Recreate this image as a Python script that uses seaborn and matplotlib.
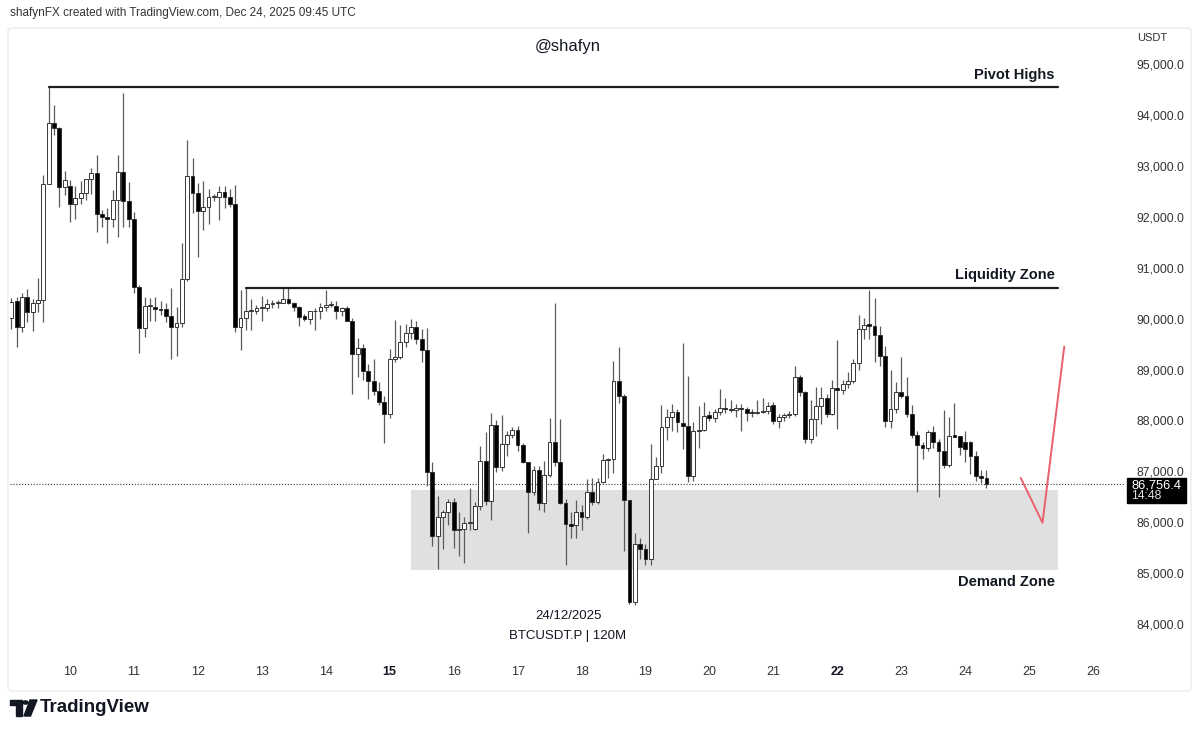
import numpy as np
import pandas as pd
import matplotlib
matplotlib.use("Agg")
import matplotlib.pyplot as plt
import matplotlib.patches as mpatches
import seaborn as sns

# 2h candles, BTCUSDT.P, Dec 9 02:00 -> Dec 24 08:00 (one row per day)
open_px = [
    90020, 90350, 89840, 90430, 90120, 90310, 90370, 92650, 93840, 93740, 92590,
    92610, 92260, 92370, 92470, 92750, 92850, 92060, 92000, 91960, 92330, 92880, 92300,
    91960, 90630, 89820, 90240, 90220, 90180, 90180, 90060, 89830, 89920, 90770, 92810,
    92470, 92120, 92200, 92380, 92380, 92480, 92380, 92260, 89840, 90020, 90140, 90140,
    90200, 90210, 90290, 90300, 90310, 90380, 90300, 90220, 90060, 90000, 90140, 90150,
    90220, 90270, 90240, 90140, 90200, 89960, 89300, 89430, 88980, 88770, 88570, 88370,
    88120, 89200, 89240, 89550, 89710, 89830, 89590, 89390, 86980, 85730, 86100, 86200,
    86400, 85850, 85860, 85980, 85870, 86320, 87200, 86410, 87920, 87080, 87530, 87710,
    87810, 87510, 87180, 86590, 87020, 86380, 86920, 87570, 87180, 86380, 85960, 85940,
    86200, 86100, 86600, 86400, 86790, 87220, 87240, 88770, 88470, 86430, 84430, 85570,
    85470, 85280, 86850, 87100, 87880, 88060, 88160, 87940, 87900, 86900, 87790, 87820,
    88100, 88040, 88160, 88240, 88230, 88200, 88240, 88230, 88150, 88140, 88170, 88180,
    88300, 87980, 88060, 88100, 88120, 88860, 88550, 87630, 88020, 88280, 88450, 88120,
    88630, 88600, 88710, 88780, 89120, 89790, 89900, 89860, 89670, 89260, 87980, 88220,
    88550, 88470, 88120, 87710, 87510, 87460, 87780, 87570, 87400, 87120, 87720, 87690,
    87570, 87570, 87300, 86900, 86860,
]
high_px = [
    90410, 90430, 90510, 90580, 90390, 90800, 92830, 94550, 94200, 93760, 92900,
    92730, 92600, 92700, 92750, 92950, 93220, 92140, 92180, 92530, 93220, 94430, 92680,
    92100, 90650, 90430, 90400, 90430, 90350, 90300, 90600, 90220, 91490, 93510, 93160,
    92670, 92700, 92550, 92450, 92600, 92600, 92550, 92630, 90570, 90610, 90380, 90260,
    90450, 90380, 90370, 90370, 90600, 90630, 90330, 90250, 90100, 90140, 90210, 90300,
    90560, 90340, 90340, 90220, 90250, 90020, 89620, 89500, 89100, 89200, 88750, 88470,
    89400, 89980, 89880, 89900, 90000, 89950, 89800, 89820, 87180, 86510, 86250, 86460,
    86480, 86200, 86100, 86670, 86400, 87490, 87770, 88140, 88000, 88100, 87790, 87880,
    87890, 87560, 87180, 87100, 87100, 87200, 88050, 90310, 88030, 86450, 86200, 86430,
    86330, 86840, 86860, 86870, 87350, 87270, 89160, 89450, 88520, 86430, 85780, 85700,
    85580, 87530, 87280, 88300, 88220, 88330, 88230, 89520, 88870, 87960, 88290, 88370,
    88180, 88230, 88620, 88440, 88400, 88320, 88320, 88260, 88230, 88400, 88440, 88370,
    88370, 88130, 88150, 88180, 89060, 88900, 88570, 88410, 88650, 88650, 88520, 88800,
    89570, 88800, 88960, 89200, 90080, 90010, 90560, 90410, 89850, 89470, 89000, 88760,
    89250, 88850, 88310, 87800, 87580, 87810, 87900, 87640, 88200, 88070, 88340, 87700,
    87800, 87590, 87390, 87020, 87020,
]
low_px = [
    89790, 89450, 89730, 89940, 89760, 90120, 89940, 92650, 93600, 92200, 92430,
    91900, 91950, 92250, 92320, 92440, 91710, 91800, 91490, 91800, 91600, 91800, 91790,
    90500, 89330, 89630, 89950, 89950, 90080, 89940, 89200, 89260, 89840, 90740, 92080,
    91200, 91740, 91850, 92300, 91940, 92180, 92200, 89730, 89390, 89780, 89780, 90100,
    89950, 90150, 90200, 90200, 90300, 90280, 90150, 89850, 89950, 89900, 89780, 90000,
    90150, 90230, 90000, 90050, 89950, 88510, 88860, 88800, 88420, 88490, 88300, 87550,
    88050, 89150, 89200, 89450, 89600, 89500, 89150, 86710, 85530, 85080, 85470, 85950,
    85500, 85340, 85200, 85850, 85840, 86250, 86330, 86040, 86990, 87000, 87300, 87650,
    87400, 87160, 85790, 86540, 86240, 86200, 86880, 87100, 86350, 85160, 85700, 85700,
    85840, 86060, 86330, 86360, 86770, 86870, 86970, 88350, 85430, 84400, 84380, 85270,
    85160, 85160, 86850, 86970, 87620, 87800, 87780, 87430, 86800, 86810, 87450, 87800,
    87980, 87960, 88110, 88140, 88160, 88060, 87800, 87980, 88070, 88120, 88140, 88120,
    87930, 87850, 87990, 88050, 88080, 88470, 87560, 87560, 87690, 87930, 88060, 88100,
    87830, 88520, 88640, 88740, 89000, 89590, 89590, 89140, 89070, 87880, 87860, 88140,
    88450, 88070, 87660, 86600, 87250, 87390, 87460, 86500, 87070, 87090, 87680, 87330,
    87190, 86950, 86810, 86770, 86680,
]
close_px = [
    90330, 89840, 90430, 90120, 90310, 90370, 92650, 93840, 93740, 92590, 92730,
    92260, 92370, 92470, 92750, 92860, 92060, 92000, 91960, 92330, 92880, 92300, 91960,
    90630, 89820, 90240, 90260, 90180, 90160, 90060, 89830, 89920, 90770, 92810, 92470,
    92120, 92200, 92380, 92390, 92480, 92380, 92260, 89840, 90020, 90140, 90160, 90200,
    90210, 90290, 90300, 90310, 90380, 90300, 90220, 90040, 90000, 90140, 90150, 90220,
    90270, 90280, 90140, 90200, 89960, 89300, 89430, 88980, 88770, 88570, 88370, 88120,
    89200, 89240, 89550, 89710, 89830, 89590, 89390, 86980, 85730, 86100, 86200, 86400,
    85850, 85860, 85980, 85990, 86320, 87200, 86410, 87920, 87080, 87530, 87710, 87810,
    87510, 87180, 86590, 87020, 86380, 86920, 87570, 87180, 86380, 85960, 85920, 86200,
    86100, 86600, 86400, 86790, 87220, 87230, 88770, 88470, 86430, 84430, 85570, 85470,
    85280, 86850, 87100, 87880, 88060, 88160, 87960, 87900, 86900, 87790, 87820, 88080,
    88040, 88160, 88240, 88230, 88200, 88240, 88230, 88150, 88140, 88170, 88180, 88290,
    87980, 88060, 88100, 88120, 88860, 88550, 87630, 88020, 88280, 88450, 88120, 88630,
    88600, 88710, 88780, 89120, 89790, 89880, 89860, 89670, 89260, 87980, 88220, 88550,
    88470, 88120, 87710, 87510, 87460, 87780, 87570, 87400, 87120, 87690, 87680, 87470,
    87430, 87300, 86900, 86860, 86756.4,
]

last_price = 86756.4
day_ticks = list(range(10, 27))
price_ticks = list(range(84000, 96000, 1000))
liquidity_start = 44          # candle index where the liquidity line starts
zone_start, zone_end = 15.33, 25.45
demand_lo, demand_hi = 85060, 86630
sketch_x = [24.87, 25.21, 25.55]
sketch_y = [86870, 85990, 89450]

times = pd.date_range("2025-12-09 02:00", periods=len(open_px), freq="2h")
df = pd.DataFrame({"open": open_px, "high": high_px, "low": low_px, "close": close_px})
df["x"] = times.day + times.hour / 24

sns.set_style("white")
plt.rcParams["font.family"] = ["Liberation Sans", "DejaVu Sans"]

W, H = 1200, 734
fig = plt.figure(figsize=(W / 100, H / 100), dpi=100)
def fx(px): return px / W
def fy(py): return 1 - py / H

ax = fig.add_axes([fx(10), fy(655), fx(1115), 625 / H])
ax.set_xlim(9.0616, 26.50)
ax.set_ylim(83393, 95668)
for s in ax.spines.values():
    s.set_visible(False)

# demand zone
ax.fill_between([zone_start, zone_end], demand_lo, demand_hi, color="#e0e0e0", lw=0, zorder=0)

# candles
up = df["close"] >= df["open"]
ax.vlines(df["x"], df["low"], df["high"], colors="#5a5a5a", lw=0.9, zorder=2)
body_lo = df[["open", "close"]].min(axis=1)
body_h = (df["close"] - df["open"]).abs().clip(lower=18)
ax.bar(df["x"], body_h, bottom=body_lo, width=0.06,
       color=np.where(up, "white", "black"), edgecolor="#2a2a2a", linewidth=0.65, zorder=3)

# pivot high / liquidity levels
piv = df["high"].idxmax()
ax.plot([df["x"][piv], zone_end], [df["high"][piv]] * 2, color="#1e1e1e", lw=1.6, zorder=4)
liq = df["high"][liquidity_start]
ax.plot([df["x"][liquidity_start], zone_end], [liq] * 2, color="#1e1e1e", lw=1.6, zorder=4)

ax.text(25.40, df["high"][piv] + 240, "Pivot Highs", ha="right", va="center",
        fontsize=10.5, fontweight="bold", color="#131722")
ax.text(25.40, liq + 240, "Liquidity Zone", ha="right", va="center",
        fontsize=10.5, fontweight="bold", color="#131722")
ax.text(25.40, demand_lo - 230, "Demand Zone", ha="right", va="center",
        fontsize=10.5, fontweight="bold", color="#131722")

# sketch of expected move
sns.lineplot(x=sketch_x, y=sketch_y, sort=False, color="#e8616d", lw=1.4, ax=ax, zorder=5)

# last price line
ax.axhline(last_price, color="#333333", lw=0.8, ls=(0, (1, 1.6)), zorder=1)

# axes ticks
ax.set_xticks(day_ticks)
ax.set_xticklabels([str(d) for d in day_ticks], fontsize=9, color="#333333")
for lab in ax.get_xticklabels():
    if lab.get_text() in ("15", "22"):
        lab.set_fontweight("bold")
        lab.set_color("#131722")
ax.yaxis.tick_right()
ax.set_yticks(price_ticks)
ax.set_yticklabels([f"{p:,.1f}" for p in price_ticks], fontsize=8.8, color="#333333")
ax.tick_params(axis="both", length=0)
ax.tick_params(axis="x", pad=8)
ax.tick_params(axis="y", pad=8)

# price label box
fig.patches.append(mpatches.Rectangle((fx(1127), fy(503)), fx(59), 25 / H,
                                      transform=fig.transFigure, color="black", zorder=10))
fig.text(fx(1131), fy(485), f"{last_price:,.1f}", fontsize=9.3, color="white", va="center", zorder=11)
fig.text(fx(1131), fy(496), "14:48", fontsize=8.8, color="#dddddd", va="center", zorder=11)
fig.text(fx(1152), fy(38), "USDT", fontsize=8, color="#333333", ha="center", va="center")

# frame
fig.patches.append(mpatches.FancyBboxPatch((fx(8), fy(691)), fx(1183), 663 / H,
                                           boxstyle="round,pad=0,rounding_size=0.004",
                                           transform=fig.transFigure, fill=False,
                                           ec="#ececec", lw=1))

# texts
fig.text(fx(10), fy(13), "shafynFX created with TradingView.com, Dec 24, 2025 09:45 UTC",
         fontsize=8.5, color="#333333", va="center")
fig.text(fx(568), fy(47), "@shafyn", fontsize=12, color="#131722", ha="center", va="center")
fig.text(fx(568), fy(616), "24/12/2025", fontsize=9.5, color="#131722", ha="center", va="center")
fig.text(fx(568), fy(636), "BTCUSDT.P | 120M", fontsize=9.5, color="#131722", ha="center", va="center")

# TradingView logo
logo_c = "#131722"
fig.patches.append(mpatches.Polygon([(fx(10), fy(700)), (fx(22), fy(700)), (fx(22), fy(716)),
                                     (fx(16), fy(716)), (fx(16), fy(705)), (fx(10), fy(705))],
                                    closed=True, transform=fig.transFigure, color=logo_c))
fig.patches.append(mpatches.Circle((fx(25.5), fy(702.5)), 2.6 / W, transform=fig.transFigure, color=logo_c))
fig.patches.append(mpatches.Polygon([(fx(30), fy(700)), (fx(37), fy(700)), (fx(30.5), fy(716)),
                                     (fx(24), fy(716))],
                                    closed=True, transform=fig.transFigure, color=logo_c))
fig.text(fx(40), fy(708), "TradingView", fontsize=13.5, fontweight="bold", color=logo_c, va="center")

fig.savefig("out.png", dpi=100, facecolor="white")
